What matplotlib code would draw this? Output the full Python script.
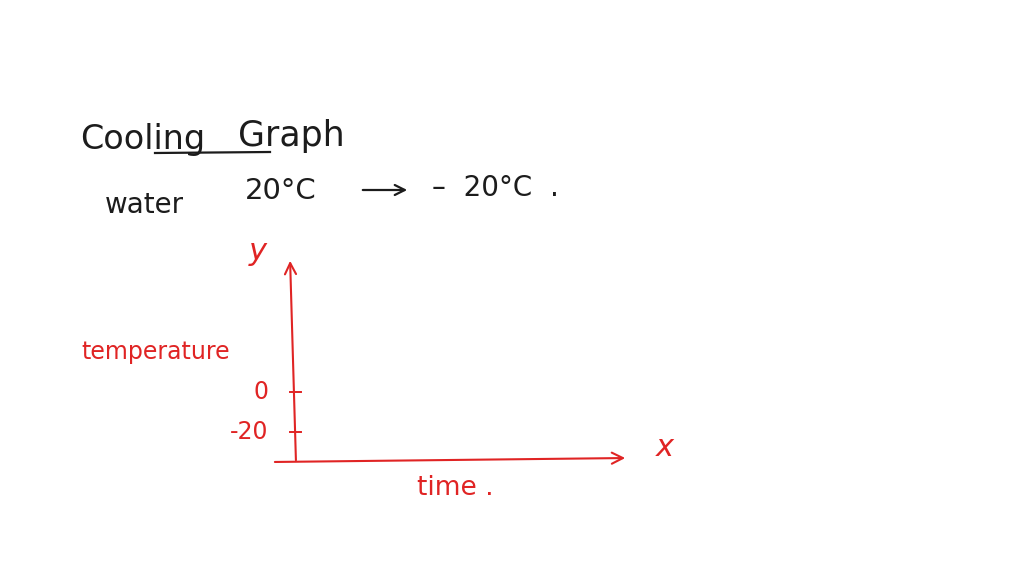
import matplotlib
matplotlib.use('Agg')
import matplotlib.pyplot as plt

# sketch content
title_words = ['Cooling', 'Graph']
substance = 'water'
start_temp = '20°C'
end_temp = '–  20°C  .'
y_label = 'temperature'
x_label = 'time .'
y_ticks = [0, -20]
y_tick_labels = ['0', '-20']
y_range = (-35.5, 67)   # temperature units spanned by the drawn y axis
x_range = (0, 10)       # time units spanned by the drawn x axis

ink = '#1c1c1c'
red = '#e02424'
plt.rcParams['font.family'] = ['DejaVu Sans']

fig = plt.figure(figsize=(10.24, 5.76), dpi=100)
fig.patch.set_facecolor('white')

# background layer in pixel units for the black notes
bg = fig.add_axes([0, 0, 1, 1])
bg.set_xlim(0, 1024)
bg.set_ylim(576, 0)
bg.axis('off')

bg.text(80, 140, title_words[0], fontsize=24, color=ink, va='center', ha='left')
bg.text(238, 136, title_words[1], fontsize=25, color=ink, va='center', ha='left')
bg.plot([155, 270], [153, 152], color=ink, lw=1.6)

bg.text(105, 205, substance, fontsize=20, color=ink, va='center', ha='left')
bg.text(245, 191, start_temp, fontsize=21, color=ink, va='center', ha='left')
bg.annotate('', xy=(410, 190), xytext=(360, 190),
            arrowprops=dict(arrowstyle='->', color=ink, lw=1.6, mutation_scale=18))
bg.text(432, 188, end_temp, fontsize=20, color=ink, va='center', ha='left')

# red graph axes
ax = fig.add_axes([296 / 1024, 1 - 463 / 576, (628 - 296) / 1024, (463 - 258) / 576])
ax.set_xlim(*x_range)
ax.set_ylim(*y_range)
ax.axis('off')

ax.annotate('', xy=(-0.18, y_range[1]), xytext=(0, y_range[0]),
            arrowprops=dict(arrowstyle='->', color=red, lw=1.5, mutation_scale=20),
            annotation_clip=False)
ax.annotate('', xy=(x_range[1], -33), xytext=(-0.72, -35),
            arrowprops=dict(arrowstyle='->', color=red, lw=1.5, mutation_scale=20),
            annotation_clip=False)

for v, lab in zip(y_ticks, y_tick_labels):
    ax.plot([-0.18, 0.15], [v, v], color=red, lw=1.4, clip_on=False)
    ax.text(-0.84, v, lab, fontsize=17, color=red, ha='right', va='center')

ax.text(-1.14, 70, 'y', fontsize=22, color=red, ha='center', va='center', style='italic')
ax.text(11.1, -28, 'x', fontsize=22, color=red, ha='center', va='center', style='italic')
ax.text(-6.45, 20, y_label, fontsize=17, color=red, ha='left', va='center')
ax.text(4.8, -48, x_label, fontsize=19, color=red, ha='center', va='center')

fig.savefig('out.png', dpi=100, facecolor='white')
